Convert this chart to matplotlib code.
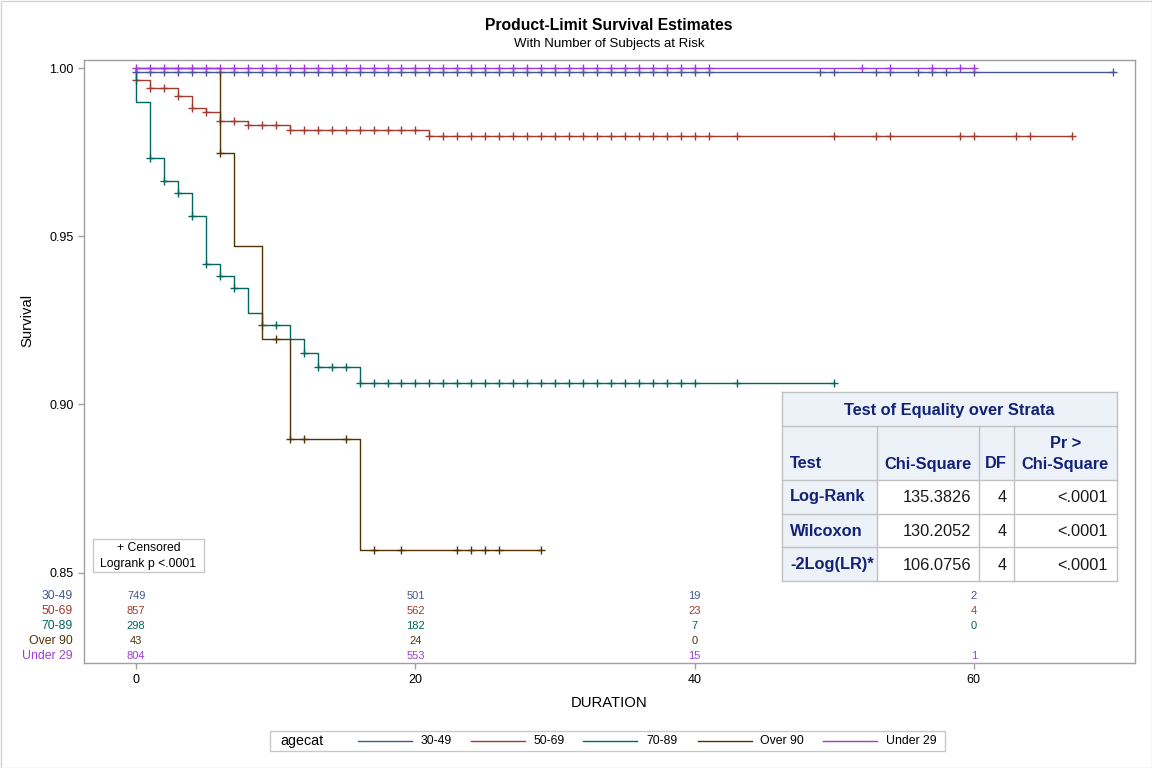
import numpy as np
import matplotlib.pyplot as plt
from matplotlib.patches import Rectangle

plt.rcParams['font.family'] = ['Liberation Sans', 'DejaVu Sans']

# Групи та кольори
groups = ['30-49', '50-69', '70-89', 'Over 90', 'Under 29']
colors = ['#445694', '#A23A2E', '#01665E', '#543005', '#9D3CDB']

# Моменти подій і оцінка виживання після події
t_3049 = [0]
s_3049 = [0.9988]
c_3049 = [0, 1, 2, 3, 4, 5, 6, 7, 8, 9, 10, 11, 12, 13, 14, 15, 16, 17, 18, 19, 20,
          21, 22, 23, 24, 25, 26, 27, 28, 29, 30, 31, 32, 33, 34, 35, 36, 37, 38, 39, 40, 41,
          49, 50, 53, 54, 56, 57, 58, 60, 70]

t_5069 = [0, 1, 3, 4, 5, 6, 8, 11, 21]
s_5069 = [0.9964, 0.9940, 0.9916, 0.9880, 0.9868, 0.9842, 0.9830, 0.9815, 0.9798]
c_5069 = [0, 1, 2, 3, 4, 5, 6, 7, 8, 9, 10, 11, 12, 13, 14, 15, 16, 17, 18, 19, 20,
          21, 22, 23, 24, 25, 26, 27, 28, 29, 30, 31, 32, 33, 34, 35, 36, 37, 38, 39, 40, 41,
          43, 50, 53, 54, 59, 60, 63, 64, 67]

t_7089 = [0, 1, 2, 3, 4, 5, 6, 7, 8, 9, 11, 12, 13, 16]
s_7089 = [0.9898, 0.9732, 0.9663, 0.9628, 0.9559, 0.9417, 0.9382, 0.9346,
          0.9272, 0.9236, 0.9194, 0.9152, 0.9110, 0.9063]
c_7089 = [1, 2, 3, 4, 5, 6, 7, 9, 10, 12, 13, 14, 15, 16, 17, 18, 19, 20,
          21, 22, 23, 24, 25, 26, 27, 28, 29, 30, 31, 32, 33, 34, 35, 36, 37, 38, 39, 40,
          43, 50]

t_over90 = [6, 7, 9, 11, 16]
s_over90 = [0.9749, 0.9470, 0.9194, 0.8896, 0.8567]
c_over90 = [6, 10, 11, 12, 15, 17, 19, 23, 24, 25, 26, 29]

t_under29 = []
s_under29 = []
c_under29 = [0, 1, 2, 3, 4, 5, 6, 7, 8, 9, 10, 11, 12, 13, 14, 15, 16, 17, 18, 19, 20,
             21, 22, 23, 24, 25, 26, 27, 28, 29, 30, 31, 32, 33, 34, 35, 36, 37, 38, 39, 40, 41,
             52, 54, 57, 59, 60]

# Кількість під ризиком
risk_times = [0, 20, 40, 60]
risk_3049 = [749, 501, 19, 2]
risk_5069 = [857, 562, 23, 4]
risk_7089 = [298, 182, 7, 0]
risk_over90 = [43, 24, 0]
risk_under29 = [804, 553, 15, 1]

# Таблиця тестів
test_names = ['Log-Rank', 'Wilcoxon', '-2Log(LR)*']
chi_sq = ['135.3826', '130.2052', '106.0756']
dfs = ['4', '4', '4']
p_vals = ['<.0001', '<.0001', '<.0001']

series = [(t_3049, s_3049, c_3049, risk_3049),
          (t_5069, s_5069, c_5069, risk_5069),
          (t_7089, s_7089, c_7089, risk_7089),
          (t_over90, s_over90, c_over90, risk_over90),
          (t_under29, s_under29, c_under29, risk_under29)]

W, H = 1152, 768
fig = plt.figure(figsize=(W / 100, H / 100), dpi=100)

ax_l, ax_r, ax_t, ax_b = 84.3, 1134.7, 60, 662.7
ax = fig.add_axes([ax_l / W, 1 - ax_b / H, (ax_r - ax_l) / W, (ax_b - ax_t) / H])
ax.set_xlim(-3.72, 71.52)
ax.set_ylim(0.82324, 1.0024)

row_y = [0.1112, 0.0858, 0.0609, 0.0360, 0.0111]
for i, (times, surv, cens, risk) in enumerate(series):
    levels = np.r_[1.0, surv]
    end = max(cens)
    x = np.r_[0, times, end]
    y = np.r_[levels, levels[-1]]
    ax.step(x, y, where='post', color=colors[i], lw=1.0)
    cy = levels[np.searchsorted(times, cens, side='right')]
    ax.plot(cens, cy, ls='none', marker='+', ms=5.5, mew=1.0, color=colors[i])
    # рядок таблиці під ризиком
    ax.text(-0.011, row_y[i], groups[i], transform=ax.transAxes, ha='right', va='center',
            fontsize=8.8, color=colors[i])
    for tt, n in zip(risk_times, risk):
        ax.text(tt, row_y[i], str(n), transform=ax.get_xaxis_transform(), ha='center',
                va='center', fontsize=8, color=colors[i])

ax.set_yticks([0.85, 0.90, 0.95, 1.00])
ax.set_yticklabels(['0.85', '0.90', '0.95', '1.00'])
ax.set_xticks(risk_times)
ax.tick_params(length=4.3, width=1, color='#A0A0A0', labelsize=9, pad=3.5)
for sp in ax.spines.values():
    sp.set_color('#A0A0A0')
    sp.set_linewidth(1)

# Легенда "+ Censored"
ax.add_patch(Rectangle((0.008, 0.150), 0.1062, 0.0547, transform=ax.transAxes,
                       fill=False, edgecolor='#C8C8C8', lw=1))
ax.text(0.061, 0.1903, '+ Censored', transform=ax.transAxes, ha='center', va='center', fontsize=8.8)
ax.text(0.061, 0.1638, 'Logrank p <.0001', transform=ax.transAxes, ha='center', va='center', fontsize=8.8)

fig.text(609 / W, 1 - 26 / H, 'Product-Limit Survival Estimates', ha='center', va='center',
         fontsize=11.3, fontweight='bold')
fig.text(609 / W, 1 - 44 / H, 'With Number of Subjects at Risk', ha='center', va='center', fontsize=9.5)
fig.text(27 / W, 1 - 320 / H, 'Survival', rotation=90, ha='center', va='center', fontsize=10.7)
fig.text(609 / W, 1 - 703 / H, 'DURATION', ha='center', va='center', fontsize=10.7)

# Накладка в пікселях для таблиці, легенди та рамки
ov = fig.add_axes([0, 0, 1, 1])
ov.set_xlim(0, W)
ov.set_ylim(H, 0)
ov.set_axis_off()
ov.patch.set_alpha(0)

ov.add_patch(Rectangle((0.5, 0.5), W - 1, H - 1, fill=False, edgecolor='#D3D3D3', lw=1))

navy = '#112277'
hdr_bg = '#EDF2F9'
grid = '#C1C1C1'
cx = [782, 877, 979, 1014, 1117]
ry = [392, 426, 480, 514, 547, 581]
ov.add_patch(Rectangle((cx[0], ry[0]), cx[-1] - cx[0], ry[2] - ry[0], facecolor=hdr_bg, edgecolor='none'))
ov.add_patch(Rectangle((cx[0], ry[2]), cx[1] - cx[0], ry[-1] - ry[2], facecolor=hdr_bg, edgecolor='none'))
ov.add_patch(Rectangle((cx[1], ry[2]), cx[-1] - cx[1], ry[-1] - ry[2], facecolor='white', edgecolor='none'))
for yy in ry:
    ov.plot([cx[0], cx[-1]], [yy, yy], color=grid, lw=1)
for xx in cx:
    top = ry[0] if xx in (cx[0], cx[-1]) else ry[1]
    ov.plot([xx, xx], [top, ry[-1]], color=grid, lw=1)

tf = 11.8
ov.text((cx[0] + cx[-1]) / 2, 410, 'Test of Equality over Strata', ha='center', va='center',
        fontsize=tf, fontweight='bold', color=navy)
ov.text(790, 464, 'Test', ha='left', va='center', fontsize=tf, fontweight='bold', color=navy)
ov.text(971.5, 464, 'Chi-Square', ha='right', va='center', fontsize=tf, fontweight='bold', color=navy)
ov.text(1007, 464, 'DF', ha='right', va='center', fontsize=tf, fontweight='bold', color=navy)
ov.text(1065.5, 443, 'Pr >', ha='center', va='center', fontsize=tf, fontweight='bold', color=navy)
ov.text(1108, 464, 'Chi-Square', ha='right', va='center', fontsize=tf, fontweight='bold', color=navy)
row_centers = [497, 531, 565]
for i in range(len(test_names)):
    yy = row_centers[i]
    ov.text(790, yy, test_names[i], ha='left', va='center', fontsize=tf, fontweight='bold', color=navy)
    ov.text(971.5, yy, chi_sq[i], ha='right', va='center', fontsize=tf, color='#1a1a1a')
    ov.text(1007, yy, dfs[i], ha='right', va='center', fontsize=tf, color='#1a1a1a')
    ov.text(1108, yy, p_vals[i], ha='right', va='center', fontsize=tf, color='#1a1a1a')

# Легенда внизу
ov.add_patch(Rectangle((270, 731), 675, 20, fill=False, edgecolor='#C8C8C8', lw=1))
ov.text(280, 741, 'agecat', ha='left', va='center', fontsize=10.3)
line_x = [357.5, 470.5, 583, 697.5, 823]
for i, g in enumerate(groups):
    ov.plot([line_x[i], line_x[i] + 54], [741, 741], color=colors[i], lw=1.0)
    ov.text(line_x[i] + 63, 741, g, ha='left', va='center', fontsize=8.8)

fig.savefig('out.png', dpi=100)
